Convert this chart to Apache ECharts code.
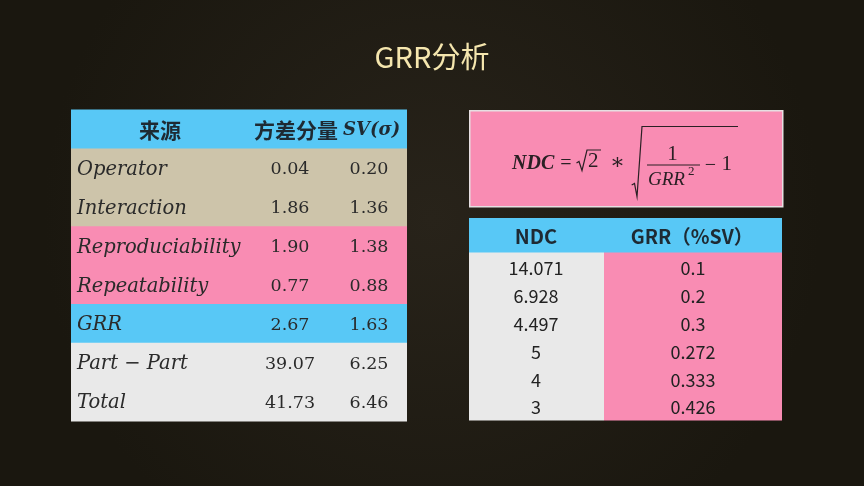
<!DOCTYPE html>
<html><head><meta charset="utf-8">
<script src="https://cdn.jsdelivr.net/npm/echarts@6/dist/echarts.min.js"></script>
<style>html,body{margin:0;padding:0;background:#201c14;}#c{width:864px;height:486px;}</style>
</head><body><div id="c"></div>
<script>
// ---- data ----
const title = 'GRR分析';
const leftHeader = ['来源', '方差分量', 'SV(σ)'];
const sources = ['Operator', 'Interaction', 'Reproduciability', 'Repeatability', 'GRR', 'Part − Part', 'Total'];
const varComp = ['0.04', '1.86', '1.90', '0.77', '2.67', '39.07', '41.73'];
const svSigma = ['0.20', '1.36', '1.38', '0.88', '1.63', '6.25', '6.46'];
const rightHeader = ['NDC', 'GRR（%SV）'];
const ndc = ['14.071', '6.928', '4.497', '5', '4', '3'];
const grrSV = ['0.1', '0.2', '0.3', '0.272', '0.333', '0.426'];

// ---- styles ----
const BLUE = '#58c8f6', TAN = '#cdc4aa', PINK = '#f98cb3', GRAY = '#e9e9e9';
const leftRowColors = [BLUE, TAN, TAN, PINK, PINK, BLUE, GRAY, GRAY];
const serif = '"DejaVu Serif", serif';
const mserif = '"Liberation Serif", serif';
const cjk = '"Noto Sans CJK SC", sans-serif';

const leftRows = ['header'].concat(sources);
const chart = echarts.init(document.getElementById('c'));

function txt(text, x, y, font, align, fill) {
  return { type: 'text', style: { text, x, y, align: align || 'center', verticalAlign: 'middle', font, fill: fill || '#2a2a2a' } };
}

function leftRender(params, api) {
  const idx = api.value(1);
  const p = api.coord([0, idx]);
  const h = api.size([0, 1])[1];
  const cs = params.coordSys;
  const y0 = p[1] - h / 2;
  const children = [{ type: 'rect', shape: { x: cs.x, y: y0 - 0.5, width: cs.width, height: h + 1 }, style: { fill: leftRowColors[idx] } }];
  if (idx === 0) {
    children.push(txt(leftHeader[0], cs.x + 89, p[1] + 1, 'bold 21px ' + cjk, 'center', '#1e2a33'));
    children.push(txt(leftHeader[1], cs.x + 267, p[1] + 1, 'bold 21px ' + cjk, 'right', '#1e2a33'));
    children.push(txt(leftHeader[2], cs.x + 272, p[1] + 1, 'italic bold 18px ' + serif, 'left', '#1e2a33'));
  } else {
    const i = idx - 1;
    children.push(txt(sources[i], cs.x + 6, p[1] + 1.5, 'italic 19.5px ' + serif, 'left'));
    children.push(txt(varComp[i], cs.x + 219, p[1] + 1.5, '17.5px ' + serif));
    children.push(txt(svSigma[i], cs.x + 298, p[1] + 1.5, '17.5px ' + serif));
  }
  return { type: 'group', children };
}

function rightRender(params, api) {
  const idx = api.value(1);
  const p = api.coord([0, idx]);
  const h = api.size([0, 1])[1];
  const cs = params.coordSys;
  const y0 = p[1] - h / 2;
  const split = 135;
  return { type: 'group', children: [
    { type: 'rect', shape: { x: cs.x, y: y0 - 0.5, width: split, height: h + 1 }, style: { fill: GRAY } },
    { type: 'rect', shape: { x: cs.x + split, y: y0 - 0.5, width: cs.width - split, height: h + 1 }, style: { fill: PINK } },
    txt(ndc[idx], cs.x + 67, p[1] + 1.5, '18px ' + cjk, 'center', '#222'),
    txt(grrSV[idx], cs.x + 224, p[1] + 1.5, '18px ' + cjk, 'center', '#222')
  ]};
}

function rightHeaderRender(params, api) {
  const p = api.coord([0, 0]);
  const h = api.size([0, 1])[1];
  const cs = params.coordSys;
  return { type: 'group', children: [
    { type: 'rect', shape: { x: cs.x, y: p[1] - h / 2, width: cs.width, height: h + 0.5 }, style: { fill: BLUE } },
    txt(rightHeader[0], cs.x + 67, p[1] + 1, 'bold 20px ' + cjk, 'center', '#1e2a33'),
    txt(rightHeader[1], cs.x + 223, p[1] + 1, 'bold 19.5px ' + cjk, 'center', '#1e2a33')
  ]};
}

const hiddenX = (g) => ({ type: 'value', gridIndex: g, min: 0, max: 1, show: false });
const hiddenY = (g, data) => ({ type: 'category', gridIndex: g, data, inverse: true, show: false });

const fc = '#2a2024';
function ftxt(text, x, y, font, align) {
  return { type: 'text', x, y, style: { text, font, fill: fc, align: align || 'left', verticalAlign: 'middle' } };
}
chart.setOption({
  backgroundColor: {
    type: 'radial', x: 0.5, y: 0.45, r: 0.8,
    colorStops: [{ offset: 0, color: '#28231a' }, { offset: 1, color: '#1a170f' }]
  },
  title: { text: title, left: 'center', top: 37, textStyle: { color: '#f5e6ae', fontSize: 29, fontWeight: 'normal', fontFamily: cjk } },
  grid: [
    { left: 71, top: 110, width: 336, height: 311 },
    { left: 469, top: 218, width: 313, height: 35 },
    { left: 469, top: 253, width: 313, height: 167 }
  ],
  xAxis: [hiddenX(0), hiddenX(1), hiddenX(2)],
  yAxis: [hiddenY(0, leftRows), hiddenY(1, ['header']), hiddenY(2, ndc.map((v, i) => 'r' + i))],
  series: [
    { type: 'custom', xAxisIndex: 0, yAxisIndex: 0, renderItem: leftRender, data: leftRows.map((r, i) => [0, i]), silent: true },
    { type: 'custom', xAxisIndex: 1, yAxisIndex: 1, renderItem: rightHeaderRender, data: [[0, 0]], silent: true },
    { type: 'custom', xAxisIndex: 2, yAxisIndex: 2, renderItem: rightRender, data: ndc.map((v, i) => [0, i]), silent: true }
  ],
  graphic: [
    { type: 'rect', left: 469, top: 110, shape: { width: 313, height: 96 }, style: { fill: PINK, stroke: '#e6dfe2', lineWidth: 1.5 } },
    ftxt('NDC', 512, 164, 'italic bold 20px ' + mserif),
    ftxt('=', 566, 164, '20px ' + mserif, 'center'),
    { type: 'polyline', shape: { points: [[576.5, 163], [579, 161.5], [582, 170.5], [587, 150], [601, 150]] }, style: { stroke: fc, lineWidth: 1.2, fill: null } },
    ftxt('2', 588, 161.5, '21px ' + mserif),
    ftxt('∗', 617.5, 163, '22px ' + serif, 'center'),
    { type: 'polyline', shape: { points: [[631.7, 185], [634.5, 183.5], [637, 196.7], [642, 126.5], [738, 126.5]] }, style: { stroke: fc, lineWidth: 1.2, fill: null } },
    ftxt('1', 672.5, 154.5, '21px ' + mserif, 'center'),
    { type: 'line', shape: { x1: 647, y1: 165, x2: 700, y2: 165 }, style: { stroke: fc, lineWidth: 1.1 } },
    ftxt('GRR', 648, 180, 'italic 19px ' + mserif),
    ftxt('2', 688, 171.5, '13px ' + mserif),
    ftxt('−', 710.5, 165.5, '20px ' + mserif, 'center'),
    ftxt('1', 721.5, 164.5, '21px ' + mserif)
  ]
});
</script></body></html>
